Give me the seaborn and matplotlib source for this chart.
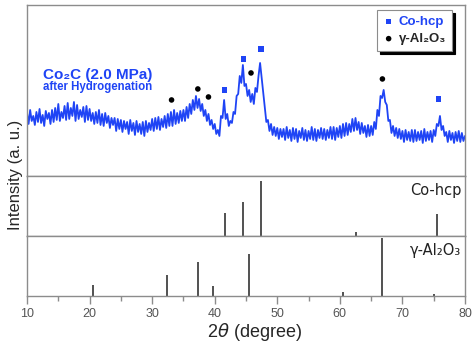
import numpy as np
import pandas as pd
import matplotlib.pyplot as plt
import seaborn as sns

theta_start, theta_step = 10.0, 0.25
intensity = [
    63, 52, 66, 55, 60, 51, 64, 54, 67, 53, 61, 50, 65, 57, 63, 52,
    66, 54, 68, 56, 72, 55, 64, 58, 70, 56, 73, 57, 68, 60, 74, 55,
    71, 57, 66, 59, 69, 54, 70, 56, 67, 55, 63, 52, 64, 53, 66, 51,
    62, 50, 63, 53, 60, 48, 58, 51, 58, 45, 57, 47, 56, 44, 55, 47,
    54, 42, 56, 45, 53, 41, 55, 44, 52, 42, 54, 40, 55, 44, 53, 46,
    57, 45, 58, 47, 59, 46, 57, 49, 60, 48, 62, 50, 64, 50, 66, 52,
    63, 53, 65, 55, 66, 55, 69, 58, 72, 62, 76, 66, 80, 68, 77, 65,
    72, 60, 66, 55, 62, 51, 56, 47, 52, 42, 46, 40, 60, 58, 76, 57,
    62, 50, 55, 53, 64, 62, 80, 82, 100, 93, 111, 90, 92, 80, 86, 74,
    82, 72, 88, 84, 100, 113, 98, 84, 68, 54, 56, 45, 52, 41, 49, 40,
    48, 37, 47, 39, 47, 36, 49, 38, 46, 35, 48, 37, 47, 34, 45, 38,
    48, 36, 46, 35, 45, 37, 49, 36, 47, 35, 46, 38, 48, 37, 47, 36,
    46, 38, 49, 37, 49, 36, 48, 39, 50, 38, 52, 40, 53, 41, 52, 44,
    57, 45, 58, 46, 54, 42, 53, 43, 50, 39, 51, 40, 50, 41, 54, 47,
    66, 60, 80, 78, 86, 74, 71, 55, 56, 43, 50, 40, 48, 38, 47, 37,
    45, 34, 46, 36, 44, 35, 46, 34, 46, 35, 44, 36, 45, 33, 47, 35,
    44, 36, 45, 34, 46, 40, 52, 50, 60, 46, 50, 40, 44, 34, 45, 36,
    43, 33, 44, 35, 45, 34, 43, 35, 40,
]
two_theta = theta_start + theta_step * np.arange(len(intensity))

# peak markers on the measured pattern
co_mark_x = [41.6, 44.6, 47.4, 75.8]
co_mark_y = [86, 117, 127, 77]
al_mark_x = [33.1, 37.3, 39.0, 45.8, 66.8]
al_mark_y = [76, 87, 79, 103, 97]

# reference patterns
co_ref_pos = [41.6, 44.5, 47.4, 62.5, 75.6]
co_ref_int = [23, 34, 55, 4, 22]
al_ref_pos = [20.6, 32.4, 37.3, 39.7, 45.5, 60.5, 66.7, 75.0]
al_ref_int = [11, 21, 34, 10, 42, 4, 58, 2]

blue = "#1f44f5"
grey = "#8c8c8c"

sns.set_style("white")
plt.rcParams["font.family"] = ["Liberation Sans", "DejaVu Sans"]

fig = plt.figure(figsize=(4.74, 3.53), dpi=100)
gs = fig.add_gridspec(3, 1, height_ratios=[171, 60, 60], hspace=0,
                      left=0.057, right=0.981, bottom=0.1615, top=0.986)
ax1 = fig.add_subplot(gs[0])
ax2 = fig.add_subplot(gs[1], sharex=ax1)
ax3 = fig.add_subplot(gs[2], sharex=ax1)

df = pd.DataFrame({"two_theta": two_theta, "intensity": intensity})
sns.lineplot(data=df, x="two_theta", y="intensity", ax=ax1, color=blue, lw=1.3)

sns.scatterplot(x=co_mark_x, y=co_mark_y, ax=ax1, marker="s", s=14, color=blue,
                edgecolor="none", label="Co-hcp")
sns.scatterplot(x=al_mark_x, y=al_mark_y, ax=ax1, marker="o", s=16, color="black",
                edgecolor="none", label="γ-Al₂O₃")

leg = ax1.legend(loc="upper right", bbox_to_anchor=(0.97, 0.97), borderaxespad=0,
                 fancybox=False, shadow={"color": "black", "alpha": 1.0}, frameon=True,
                 prop={"size": 9.5, "weight": "bold"}, handletextpad=0.3, borderpad=0.45,
                 labelspacing=0.35, handlelength=0.9, edgecolor=grey)
leg.get_frame().set_linewidth(0.8)
leg.get_texts()[0].set_color(blue)

ax1.text(12.5, 97, "Co₂C (2.0 MPa)", color=blue, fontsize=11, fontweight="bold")
ax1.text(12.5, 86, "after Hydrogenation", color=blue, fontsize=8.3, fontweight="bold")

ax2.vlines(co_ref_pos, 0, co_ref_int, color="#222222", lw=1.1)
ax3.vlines(al_ref_pos, 0, al_ref_int, color="#222222", lw=1.1)
ax2.text(0.992, 0.75, "Co-hcp", transform=ax2.transAxes, ha="right", va="center",
         fontsize=10.5, color="#222222", family=["DejaVu Sans"])
ax3.text(0.992, 0.75, "γ-Al₂O₃", transform=ax3.transAxes, ha="right", va="center",
         fontsize=10.5, color="#222222", family=["DejaVu Sans"])

ax1.set_ylim(0, 171)
ax2.set_ylim(0, 60)
ax3.set_ylim(0, 60)
ax1.set_xlim(10, 80)

for ax in (ax1, ax2, ax3):
    for sp in ax.spines.values():
        sp.set_color(grey)
        sp.set_linewidth(1.0)
    ax.set_yticks([])
    ax.set_ylabel("")
    ax.set_xlabel("")
    ax.tick_params(axis="x", which="both", bottom=False, labelbottom=False)

ax3.set_xticks(range(10, 81, 10))
ax3.set_xticks(range(15, 80, 10), minor=True)
ax3.tick_params(axis="x", which="major", bottom=True, labelbottom=True, direction="out",
                length=6, width=1, color=grey, labelsize=9, labelcolor="#555555", pad=3)
ax3.tick_params(axis="x", which="minor", bottom=True, direction="out",
                length=3.5, width=1, color=grey)

fig.text(0.536, 0.06, "2$\\theta$ (degree)", ha="center", va="center", fontsize=13)
fig.text(0.032, 0.504, "Intensity (a. u.)", rotation=90, ha="center", va="center",
         fontsize=12)

plt.savefig("out.png", dpi=100)
